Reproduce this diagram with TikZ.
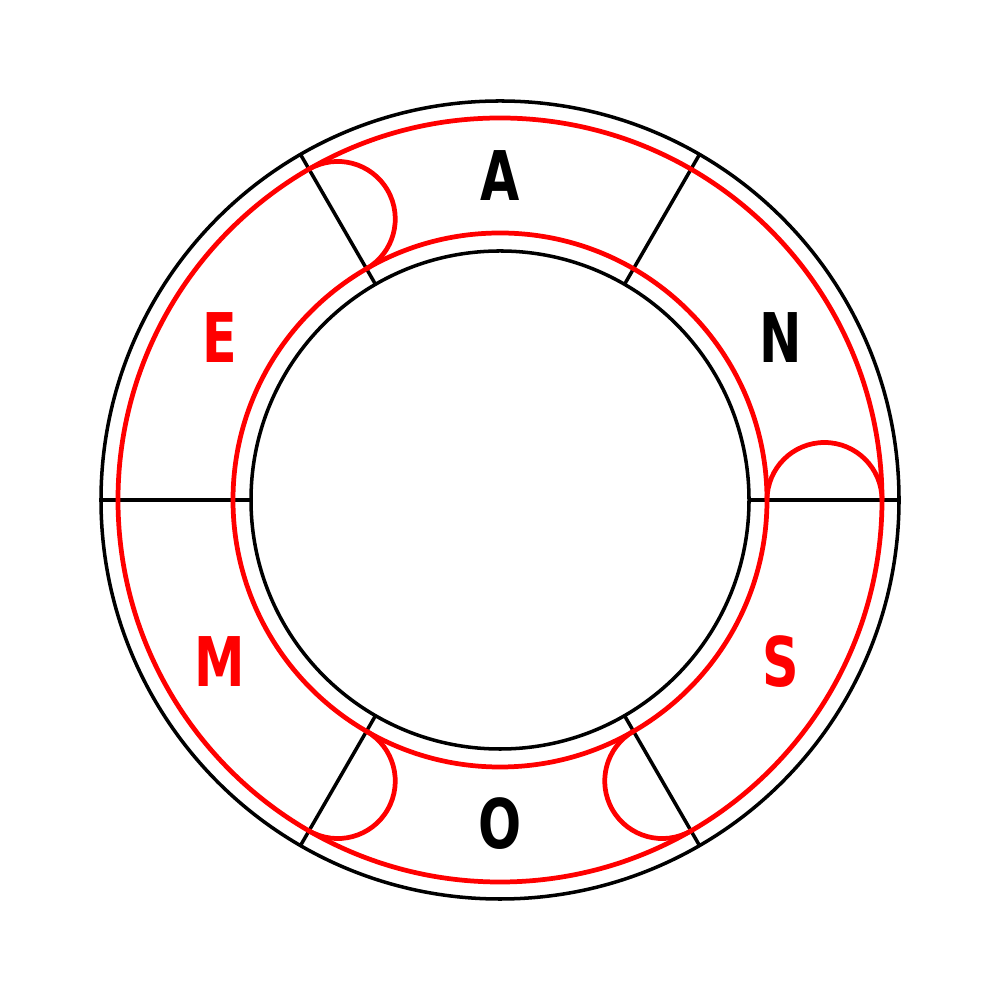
\documentclass[tikz,border=0pt]{standalone}
\usepackage{fontspec}
\newfontfamily\letterfont[FakeStretch=0.74]{DejaVu Sans}
\begin{document}
\begin{tikzpicture}
\tikzset{
  blackline/.style={draw=black, line width=1.0pt},
  redline/.style={draw=red, line width=1.35pt},
  letter/.style={font=\letterfont\bfseries\fontsize{19.5}{20}\selectfont, inner sep=0pt},
}
\useasboundingbox (-5,-5) rectangle (5,5);
% black rings
\draw[blackline] (0,0) circle[radius=3.99];
\draw[blackline] (0,0) circle[radius=2.49];
% spokes
\foreach \a in {0,60,120,180,240,300}
  \draw[blackline] (\a:2.49) -- (\a:3.99);
% red rings
\draw[redline] (0,0) circle[radius=3.82];
\draw[redline] (0,0) circle[radius=2.67];
% red semicircles
\draw[redline] (120:3.82) arc[start angle=120, end angle=-60, radius=0.575];
\draw[redline] (0:3.82) arc[start angle=0, end angle=180, radius=0.575];
\draw[redline] (240:3.82) arc[start angle=240, end angle=420, radius=0.575];
\draw[redline] (300:3.82) arc[start angle=300, end angle=120, radius=0.575];
% letters
\node[letter, text=black] (A) at (90:3.24) {A};
\node[letter, text=black] (N) at (30:3.24) {N};
\node[letter, text=red] (S) at (-30:3.24) {S};
\node[letter, text=black] (O) at (270:3.24) {O};
\node[letter, text=red] (M) at (210:3.24) {M};
\node[letter, text=red] (E) at (150:3.24) {E};
\end{tikzpicture}
\end{document}
